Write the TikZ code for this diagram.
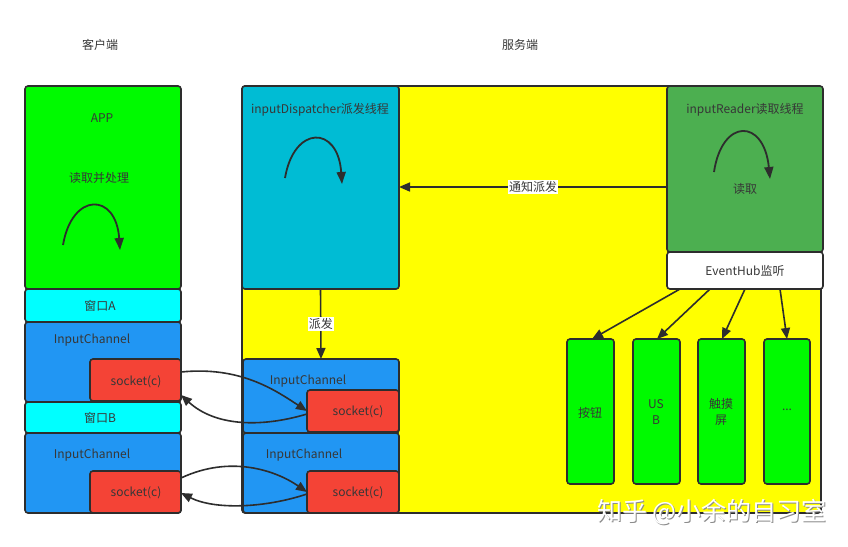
\documentclass[tikz,border=0pt]{standalone}
\usepackage{fontspec}
\setmainfont{Noto Sans CJK SC}
\usetikzlibrary{arrows.meta,calc}
\definecolor{cLine}{RGB}{45,45,45}
\definecolor{cText}{RGB}{55,55,55}
\definecolor{cLime}{RGB}{0,250,0}
\definecolor{cCyan}{RGB}{0,255,255}
\definecolor{cBlue}{RGB}{33,150,243}
\definecolor{cRed}{RGB}{244,67,54}
\definecolor{cTeal}{RGB}{0,188,212}
\definecolor{cGreen}{RGB}{76,175,80}
\definecolor{cYellow}{RGB}{255,255,0}
\begin{document}
\begin{tikzpicture}[x=1pt,y=-1pt,
  font=\fontsize{12}{14}\selectfont,
  box/.style={draw=cLine, line width=1.6pt, rounded corners=3pt, inner sep=0pt, outer sep=0pt, anchor=north west},
  txt/.style={text=cText, inner sep=0pt, align=center},
  arr/.style={draw=cLine, line width=1.6pt, -{Triangle[length=11pt,width=9pt]}},
  lbl/.style={fill=white, text=cText, inner sep=1pt},
  loop/.style={draw=cLine, line width=1.8pt, -{Triangle[length=12pt,width=9pt]}}]
\useasboundingbox (0,0) rectangle (848,546);
\fill[white] (0,0) rectangle (848,546);
% titles
\node[txt] (tclient) at (100,45) {客户端};
\node[txt] (tserver) at (520,45) {服务端};
% client column
\node[box, fill=cLime, minimum width=156, minimum height=203] (app) at (25,86) {};
\node[box, fill=cCyan, minimum width=156, minimum height=33] (winA) at (25,289) {};
\node[box, fill=cBlue, minimum width=156, minimum height=80] (chA) at (25,322) {};
\node[box, fill=cRed, minimum width=91, minimum height=42] (sA) at (90,359) {};
\node[box, fill=cCyan, minimum width=156, minimum height=31] (winB) at (25,402) {};
\node[box, fill=cBlue, minimum width=156, minimum height=80] (chB) at (25,433) {};
\node[box, fill=cRed, minimum width=91, minimum height=42] (sB) at (90,471) {};
\node[txt] (appT) at (102,118) {APP};
\node[txt] (appR) at (99,178) {读取并处理};
\node[txt] (winAT) at (100,306) {窗口A};
\node[txt] (chAT) at (92,340) {InputChannel};
\node[txt] (sAT) at (136,382) {socket(c)};
\node[txt] (winBT) at (100,418) {窗口B};
\node[txt] (chBT) at (92,455) {InputChannel};
\node[txt] (sBT) at (136,493) {socket(c)};
\draw[loop] (63,245) .. controls (72,192) and (116,192) .. (120,250);
% server
\node[box, fill=cYellow, minimum width=579, minimum height=427] (server) at (242,86) {};
\node[box, fill=cTeal, minimum width=157, minimum height=203] (disp) at (242,86) {};
\node[txt] (dispT) at (320,110) {inputDispatcher派发线程};
\draw[loop] (285,178) .. controls (294,125) and (338,125) .. (342,184);
\node[box, fill=cBlue, minimum width=156, minimum height=74] (chC) at (243,359) {};
\node[box, fill=cRed, minimum width=92, minimum height=42] (sC) at (307,390) {};
\node[box, fill=cBlue, minimum width=156, minimum height=80] (chD) at (243,433) {};
\node[box, fill=cRed, minimum width=92, minimum height=42] (sD) at (307,471) {};
\node[txt] (chCT) at (308,381) {InputChannel};
\node[txt] (sCT) at (358,412) {socket(c)};
\node[txt] (chDT) at (304,455) {InputChannel};
\node[txt] (sDT) at (358,493) {socket(c)};
\node[box, fill=cGreen, minimum width=156, minimum height=166] (reader) at (667,86) {};
\node[box, fill=white, minimum width=156, minimum height=37] (hub) at (667,252) {};
\node[txt] (readerT) at (745,110) {inputReader读取线程};
\draw[loop] (714,172) .. controls (722,118) and (764,118) .. (770,179);
\node[txt] (readT) at (745,189) {读取};
\node[txt] (hubT) at (745,271) {EventHub监听};
\node[box, fill=cLime, minimum width=47, minimum height=145] (d1) at (567,339) {};
\node[box, fill=cLime, minimum width=47, minimum height=145] (d2) at (633,339) {};
\node[box, fill=cLime, minimum width=47, minimum height=145] (d3) at (698,339) {};
\node[box, fill=cLime, minimum width=46, minimum height=145] (d4) at (764,339) {};
\node[txt] (d1T) at (590,413) {按钮};
\node[txt, font=\fontsize{12}{16}\selectfont] (d2T) at (656,412) {US\\B};
\node[txt, font=\fontsize{12}{16}\selectfont] (d3T) at (721,412) {触摸\\屏};
\node[txt] (d4T) at (787,410) {...};
% connectors
\draw[arr] ($(reader.north west)+(0,101)$) -- ($(disp.north east)+(0,101)$)
  node[lbl, midway] (lnotify) {通知派发};
\draw[arr] (disp.south) -- (chC.north) node[lbl, midway] (ldispatch) {派发};
\draw[arr] ($(hub.south west)+(13,0)$) -- ($(d1.north west)+(25,0)$);
\draw[arr] ($(hub.south west)+(43,0)$) -- ($(d2.north west)+(24,0)$);
\draw[arr] ($(hub.south west)+(78,0)$) -- ($(d3.north west)+(24,0)$);
\draw[arr] ($(hub.south west)+(113,0)$) -- ($(d4.north west)+(23,0)$);
\draw[arr] ($(sA.north east)+(0,13)$) .. controls (240,366) and (275,390) .. ($(sC.north west)+(0,21)$);
\draw[arr] ($(sC.north west)+(0,24)$) .. controls (260,428) and (215,426) .. ($(sA.south east)+(0,-6)$);
\draw[arr] ($(sB.north east)+(0,7)$) .. controls (230,455) and (275,470) .. ($(sD.north west)+(0,21)$);
\draw[arr] ($(sD.north west)+(0,23)$) .. controls (265,508) and (215,510) .. ($(sB.south east)+(0,-20)$);
% watermark
\node[text=black!45, font=\fontsize{25}{27}\selectfont, inner sep=0pt] (wmS) at (713,513) {知乎 @小余的自习室};
\node[text=white, font=\fontsize{25}{27}\selectfont, inner sep=0pt] (wm) at (712,512) {知乎 @小余的自习室};
\end{tikzpicture}
\end{document}
